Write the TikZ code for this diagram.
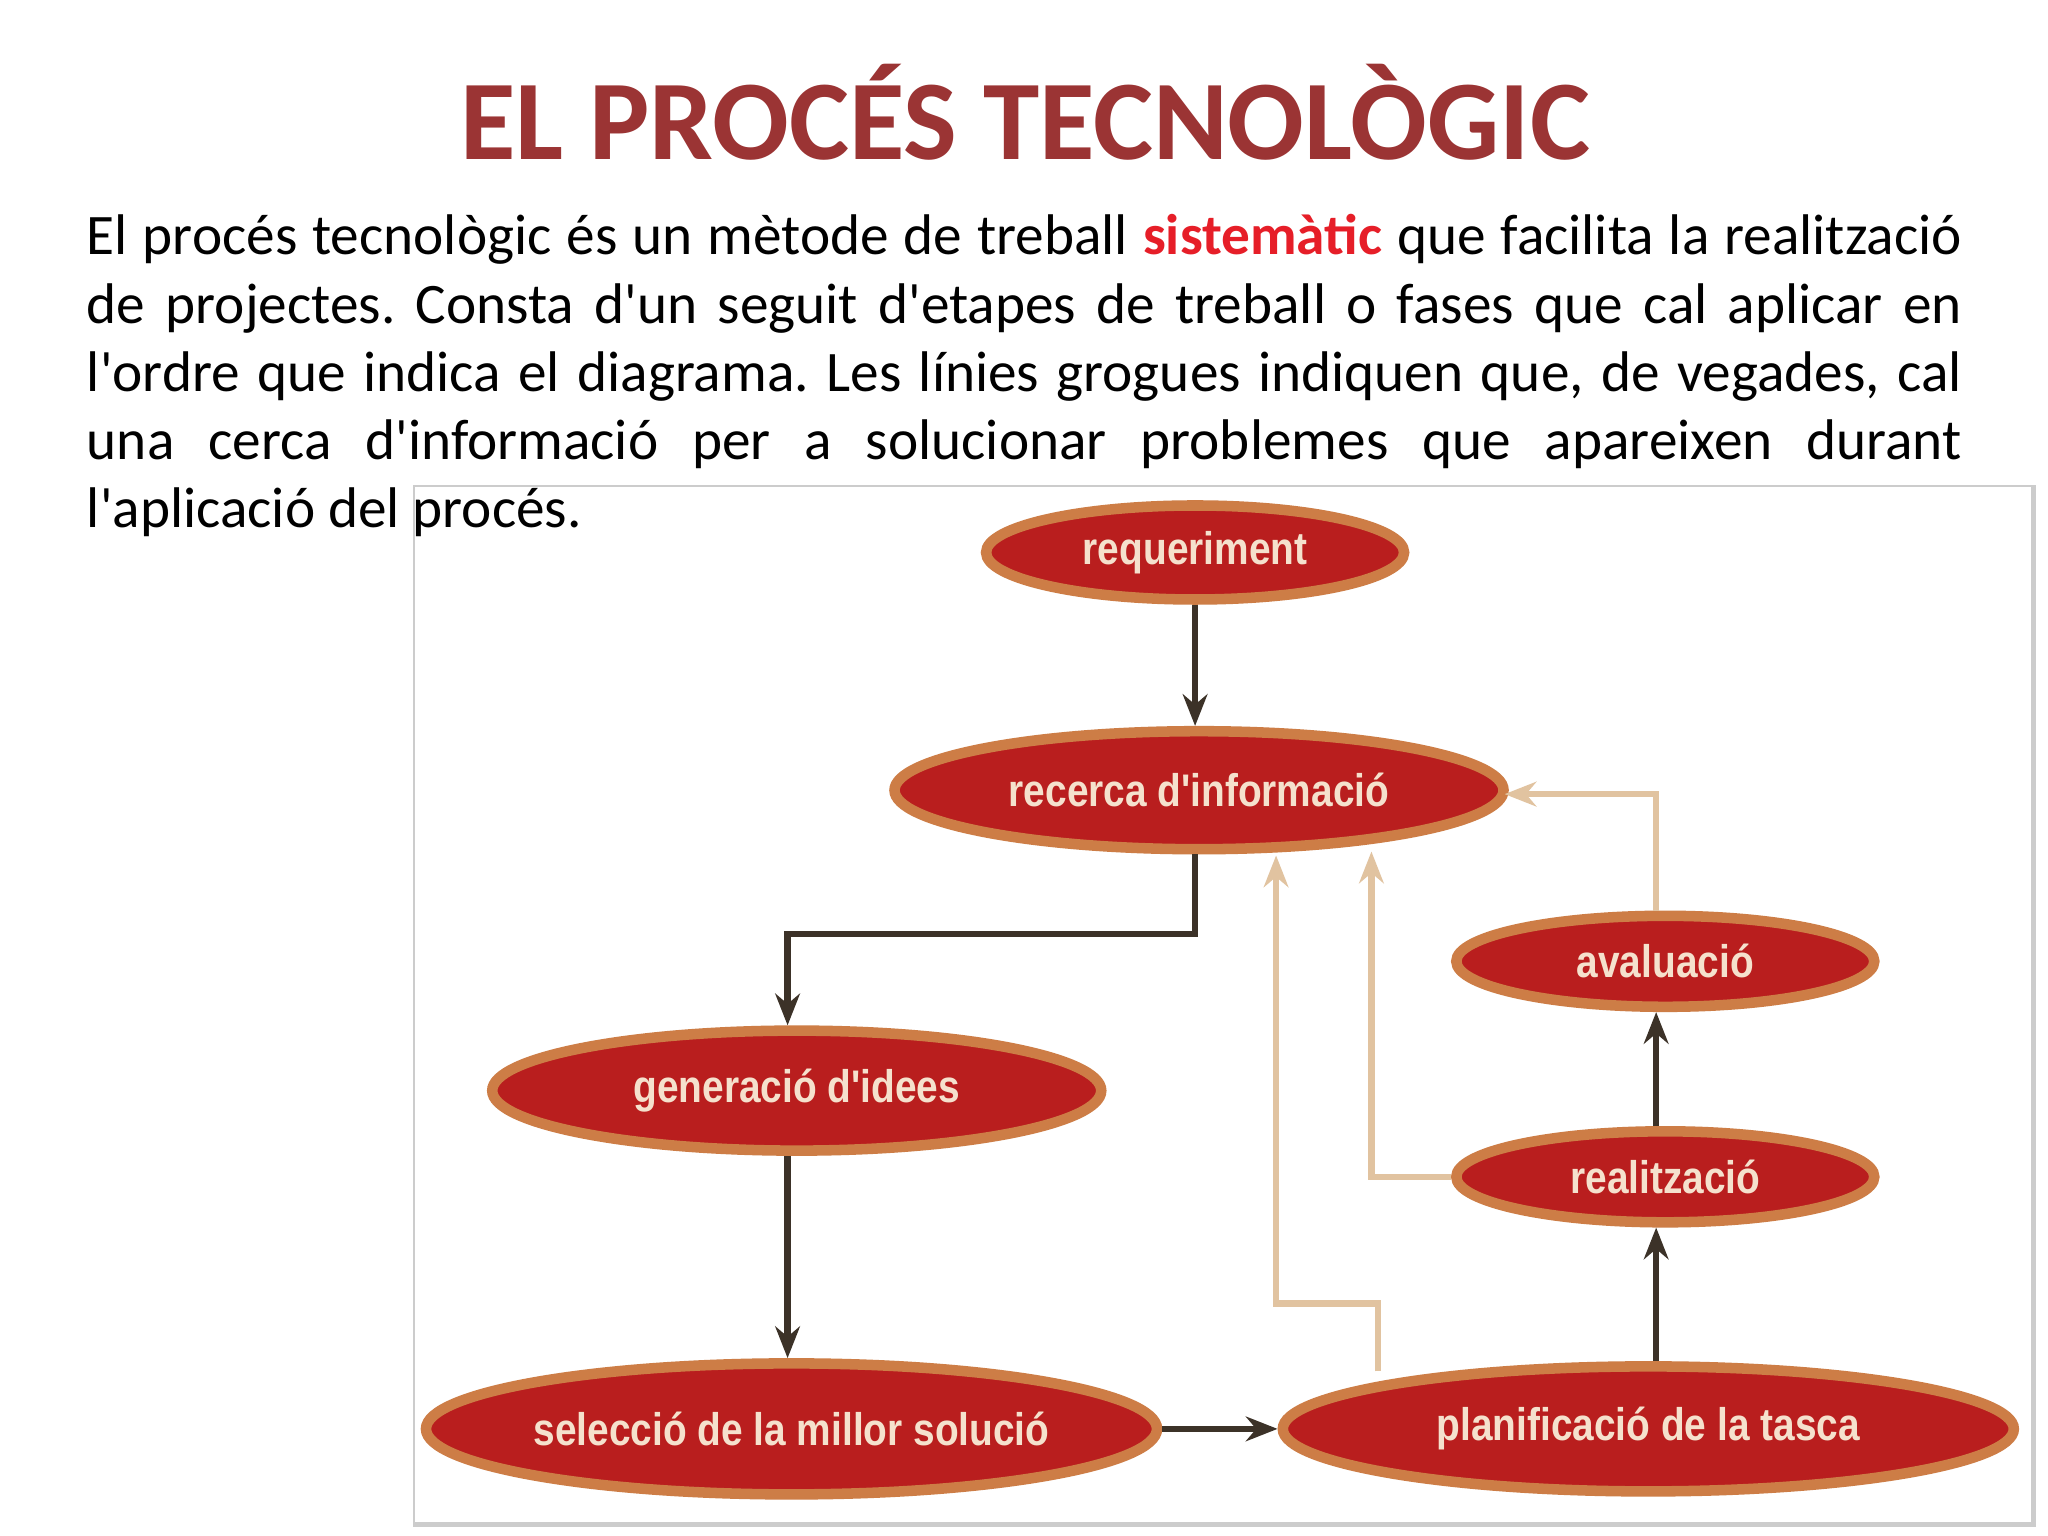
\documentclass[tikz,border=0pt]{standalone}
\usepackage{fontspec}
\setmainfont{Carlito}[Ligatures=TeXOff]
\newfontfamily\diagfont{Liberation Sans}
\usetikzlibrary{arrows.meta,shapes.geometric}
\frenchspacing
\definecolor{titlered}{RGB}{155,52,52}
\definecolor{hired}{RGB}{230,30,40}
\definecolor{ellfill}{RGB}{185,30,30}
\definecolor{ellborder}{RGB}{205,125,70}
\definecolor{ellText}{RGB}{245,225,205}
\definecolor{darkline}{RGB}{60,50,40}
\definecolor{tanline}{RGB}{225,195,160}
\newcommand{\phtext}[1]{\scalebox{0.85}[1]{#1}}
\tikzset{
  phase/.style={ellipse,draw=ellborder,line width=3pt,fill=ellfill,inner sep=0pt,
    text=ellText,font=\diagfont\bfseries\fontsize{13pt}{15pt}\selectfont},
  paraline/.style={anchor=base west,inner sep=0pt,font=\fontsize{16.3pt}{19pt}\selectfont},
  darr/.style={draw=darkline,line width=1.8pt,-{Stealth[length=9pt,width=7pt]}},
  tarr/.style={draw=tanline,line width=1.8pt,-{Stealth[length=9pt,width=7pt]}}
}
\begin{document}
\begin{tikzpicture}[x=0.01306cm,y=-0.01306cm]
\useasboundingbox (0,0) rectangle (1568,1176);
\fill[white] (0,0) rectangle (1568,1176);
% image box
\fill[black!20] (316,371) rectangle (1559,1169);
\fill[white] (318,373) rectangle (1555,1165);
\node[font=\bfseries\fontsize{32.3pt}{38pt}\selectfont,text=titlered] (title) at (785,86) {EL PROCÉS TECNOLÒGIC};
\node[paraline] (l1) at (66,195) {\makebox[18.75cm][s]{El procés tecnològic és un mètode de treball {\color{hired}\bfseries sistemàtic} que facilita la realització}};
\node[paraline] (l2) at (66,248) {\makebox[18.75cm][s]{de projectes. Consta d'un seguit d'etapes de treball o fases que cal aplicar en}};
\node[paraline] (l3) at (66,300) {\makebox[18.75cm][s]{l'ordre que indica el diagrama. Les línies grogues indiquen que, de vegades, cal}};
\node[paraline] (l4) at (66,352) {\makebox[18.75cm][s]{una cerca d'informació per a solucionar problemes que apareixen durant}};
\node[paraline] (l5) at (66,404) {l'aplicació del procés.};
% nodes
\node[phase,minimum width=4.18cm,minimum height=0.94cm] (req) at (915,423) {\phtext{requeriment}};
\node[phase,minimum width=6.09cm,minimum height=1.18cm] (rec) at (918,605) {\phtext{recerca d'informació}};
\node[phase,minimum width=4.18cm,minimum height=0.91cm] (ava) at (1275,736) {\phtext{avaluació}};
\node[phase,minimum width=6.09cm,minimum height=1.20cm] (gen) at (610,835) {\phtext{generació d'idees}};
\node[phase,minimum width=4.18cm,minimum height=0.91cm] (rea) at (1275,901) {\phtext{realització}};
\node[phase,minimum width=7.31cm,minimum height=1.31cm] (sel) at (606,1094) {\phtext{selecció de la millor solució}};
\node[phase,minimum width=7.31cm,minimum height=1.25cm] (pla) at (1262,1094) {\phtext{planificació de la tasca}};
% dark arrows
\draw[darr] (req.south) -- (req.south |- rec.north);
\draw[darr] (rec.south -| 915,0) -- (915,715) -- (603,715) -- (gen.north -| 603,0);
\draw[darr] (gen.south -| 603,0) -- (sel.north -| 603,0);
\draw[darr] (sel.east) -- (pla.west);
\draw[darr] (pla.north -| 1268,0) -- (rea.south -| 1268,0);
\draw[darr] (rea.north -| 1268,0) -- (ava.south -| 1268,0);
% tan arrows
\coordinate (t1) at (1268,608);
\draw[tarr] (ava.north -| 1268,0) -- (t1) -- (1152,608);
\draw[tarr] (rea.west) -- (1050,901) -- (1050,652);
\coordinate (t3) at (1055,998);
\draw[tarr] (1055,1050) -- (t3) -- (977,998) -- (977,655);
\end{tikzpicture}
\end{document}
